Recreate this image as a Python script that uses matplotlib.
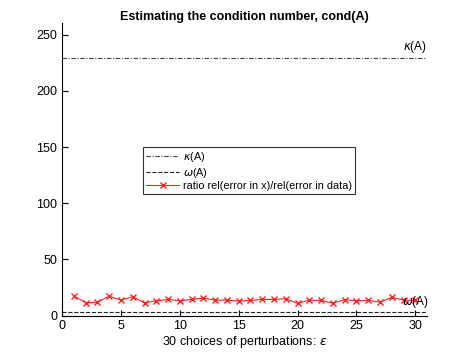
import numpy as np
import matplotlib
matplotlib.use('Agg')
import matplotlib.pyplot as plt

plt.rcParams['font.family'] = ['Liberation Sans', 'DejaVu Sans']
plt.rcParams['mathtext.fontset'] = 'dejavusans'

# condition number estimate and lower bound
kappa = 229.5
omega = 3.0
trials = np.arange(1, 31)
ratio = [17.6, 11.4, 12.0, 17.3, 13.8, 16.8, 11.4, 13.2, 14.4, 13.2,
         14.4, 15.6, 13.8, 13.8, 12.9, 13.5, 14.4, 14.4, 15.0, 10.8,
         13.8, 13.5, 11.1, 14.1, 13.2, 13.5, 12.0, 16.2, 13.8, 13.5]

fig = plt.figure(figsize=(4.74, 3.55), dpi=100)
ax = fig.add_axes([0.131, 0.111, 0.77, 0.823])

ax.plot([0, 31], [kappa, kappa], color='#444444', linestyle=(0, (4, 1.5, 1, 1.5)),
        linewidth=0.8, label=r'$\kappa$(A)')
ax.plot([0, 31], [omega, omega], color='#222222', linestyle='--', linewidth=0.8,
        label=r'$\omega$(A)')
ax.plot(trials, ratio, color='#ff2020', marker='x', markersize=4.5, linewidth=0.8,
        label='ratio rel(error in x)/rel(error in data)')

ax.text(30.0, kappa + 2, r'$\kappa$(A)', fontsize=8.5, ha='center', va='bottom')
ax.text(30.0, omega + 2, r'$\omega$(A)', fontsize=8.5, ha='center', va='bottom')

ax.set_xlim(0, 31)
ax.set_ylim(0, 260)
ax.set_xticks([0, 5, 10, 15, 20, 25, 30])
ax.set_yticks([0, 50, 100, 150, 200, 250])
ax.spines['top'].set_visible(False)
ax.spines['right'].set_visible(False)
ax.tick_params(direction='in', labelsize=9, length=4)
ax.set_xlabel(r'30 choices of perturbations: $\epsilon$', fontsize=9, labelpad=1)
ax.set_title('Estimating the condition number, cond(A)', fontsize=9,
             fontweight='bold', pad=2)

leg = ax.legend(loc='upper left', bbox_to_anchor=(0.222, 0.578), fontsize=7.8,
                frameon=True, fancybox=False, handlelength=3,
                borderpad=0.3, labelspacing=0.15, handletextpad=0.4,
                borderaxespad=0)
leg.get_frame().set_edgecolor('black')
leg.get_frame().set_linewidth(0.8)

plt.savefig('out.png', dpi=100)
